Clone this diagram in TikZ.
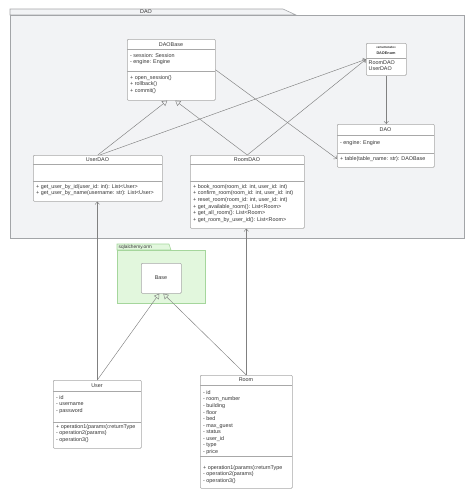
\documentclass[tikz,border=0pt]{standalone}
\usepackage{fontspec}
\setmainfont{Liberation Sans}
\usetikzlibrary{arrows.meta,calc}
\definecolor{pkgfill}{HTML}{F2F3F5}
\definecolor{pkgline}{HTML}{A3A5A8}
\definecolor{grnfill}{HTML}{E2F7DD}
\definecolor{grnline}{HTML}{A5D69C}
\definecolor{clsline}{HTML}{A8A8A8}
\definecolor{conn}{HTML}{808080}
\definecolor{txt}{HTML}{333333}
\tikzset{
  cls/.style={draw=clsline, fill=white, line width=0.6pt, rounded corners=1pt, inner sep=0pt, anchor=north west},
  sep/.style={draw=clsline, line width=0.6pt},
  tx/.style={inner sep=0pt, text=txt, font=\fontsize{5.4}{6.55}\selectfont, align=left, anchor=north west},
  ttl/.style={inner sep=0pt, text=txt, font=\fontsize{5.4}{6.5}\selectfont},
  inh/.style={draw=conn, line width=0.45pt, -{Triangle[open, length=5pt, width=6pt]}},
  asc/.style={draw=conn, line width=0.45pt, -{Straight Barb[length=2.5pt, width=4.5pt]}},
}
\begin{document}
\begin{tikzpicture}[x=1pt,y=-1pt]
\useasboundingbox (0,0) rectangle (474,499);
% DAO package
\draw[draw=pkgline, fill=pkgfill, line width=0.6pt] (10,15) -- (10,9) -- (283,9) -- (296,15) -- cycle;
\node[draw=pkgline, fill=pkgfill, line width=0.6pt, inner sep=0pt, anchor=north west, minimum width=454pt, minimum height=223pt] (daopkg) at (10,15) {};
\node[ttl] (daolbl) at (146,12) {DAO};

% DAOBase
\node[cls, minimum width=88pt, minimum height=61pt] (daobase) at (127,39) {};
\draw[sep] (daobase.north west) ++(0,10) -- ++(88,0);
\draw[sep] (daobase.north west) ++(0,32) -- ++(88,0);
\node[ttl] (daobaset) at (171,44.5) {DAOBase};
\node[tx] (daobasea) at (130,53.3) {- session: Session\\- engine: Engine};
\node[tx] (daobasem) at (130,75.3) {+ open\_session()\\+ rollback()\\+ commit()};

% DAOEnum
\node[cls, minimum width=40pt, minimum height=32pt] (daoenum) at (366,43) {};
\draw[sep] (daoenum.north west) ++(0,15) -- ++(40,0);
\node[ttl, font=\fontsize{3.2}{3.5}\selectfont\bfseries] (daoenums) at (386,47.5) {<<enumerate>>};
\node[ttl, font=\fontsize{3.8}{4}\selectfont\bfseries] (daoenumt) at (386,53) {DAOEnum};
\node[tx] (daoenumb) at (368.5,60.3) {RoomDAO\\UserDAO};

% DAO class
\node[cls, minimum width=97pt, minimum height=43pt] (dao) at (337,124) {};
\draw[sep] (dao.north west) ++(0,11) -- ++(97,0);
\draw[sep] (dao.north west) ++(0,29) -- ++(97,0);
\node[ttl] (daot) at (385.5,129.5) {DAO};
\node[tx] (daoa) at (340,140.3) {- engine: Engine};
\node[tx] (daom) at (340,156.3) {+ table(table\_name: str): DAOBase};

% UserDAO
\node[cls, minimum width=129pt, minimum height=46pt] (userdao) at (33,155) {};
\draw[sep] (userdao.north west) ++(0,9) -- ++(129,0);
\draw[sep] (userdao.north west) ++(0,26) -- ++(129,0);
\node[ttl] (userdaot) at (97.5,159.5) {UserDAO};
\node[tx] (userdaom) at (36,184.3) {+ get\_user\_by\_id(user\_id: int): List<User>\\+ get\_user\_by\_name(username: str): List<User>};

% RoomDAO
\node[cls, minimum width=114pt, minimum height=73pt] (roomdao) at (190,155) {};
\draw[sep] (roomdao.north west) ++(0,9) -- ++(114,0);
\draw[sep] (roomdao.north west) ++(0,26) -- ++(114,0);
\node[ttl] (roomdaot) at (247,159.5) {RoomDAO};
\node[tx] (roomdaom) at (193,184.3) {+ book\_room(room\_id: int, user\_id: int)\\+ confirm\_room(room\_id: int, user\_id: int)\\+ reset\_room(room\_id: int, user\_id: int)\\+ get\_available\_room(): List<Room>\\+ get\_all\_room(): List<Room>\\+ get\_room\_by\_user\_id(): List<Room>};

% sqlalchemy.orm package
\draw[draw=grnline, fill=grnfill, line width=0.6pt] (117,250) -- (117,244) -- (169,244) -- (171,250) -- cycle;
\node[draw=grnline, fill=grnfill, line width=0.6pt, inner sep=0pt, anchor=north west, minimum width=88pt, minimum height=53pt] (orm) at (117,250) {};
\node[ttl, anchor=west, font=\fontsize{4.8}{5}\selectfont] (ormlbl) at (118.5,247) {sqlalchemy.orm};
\node[cls, minimum width=40pt, minimum height=30pt] (base) at (141,263) {};
\node[ttl] (baset) at (161,278) {Base};

% User
\node[cls, minimum width=88pt, minimum height=68pt] (user) at (53,380) {};
\draw[sep] (user.north west) ++(0,11) -- ++(88,0);
\draw[sep] (user.north west) ++(0,42) -- ++(88,0);
\node[ttl] (usert) at (97,385.5) {User};
\node[tx] (usera) at (56,395.3) {- id\\- username\\- password};
\node[tx] (userm) at (56,424.3) {+ operation1(params):returnType\\- operation2(params)\\- operation3()};

% Room
\node[cls, minimum width=92pt, minimum height=113pt] (room) at (200,375) {};
\draw[sep] (room.north west) ++(0,10) -- ++(92,0);
\draw[sep] (room.north west) ++(0,81) -- ++(92,0);
\node[ttl] (roomt) at (246,380) {Room};
\node[tx] (rooma) at (203,390.3) {- id\\- room\_number\\- building\\- floor\\- bed\\- max\_guest\\- status\\- user\_id\\- type\\- price};
\node[tx] (roomm) at (203,465.3) {+ operation1(params):returnType\\- operation2(params)\\- operation3()};

% connectors
\draw[inh] (userdao.north) -- ($(daobase.south)+(-4,0)$);
\draw[inh] (roomdao.north) -- ($(daobase.south)+(4,0)$);
\draw[asc] ($(userdao.north)+(2,0)$) -- (daoenum.west);
\draw[asc] (roomdao.north) -- (daoenum.west);
\draw[asc] (daobase.east) -- ($(dao.west)+(0,13)$);
\draw[asc] (daoenum.south) -- (dao.north -| daoenum.south);
\draw[asc] (user.north) -- (user.north |- userdao.south);
\draw[inh] (user.north) -- ($(base.south)+(-2,0)$);
\draw[asc] (room.north) -- (room.north |- roomdao.south);
\draw[inh] (room.north) -- ($(base.south)+(2,0)$);
\end{tikzpicture}
\end{document}
